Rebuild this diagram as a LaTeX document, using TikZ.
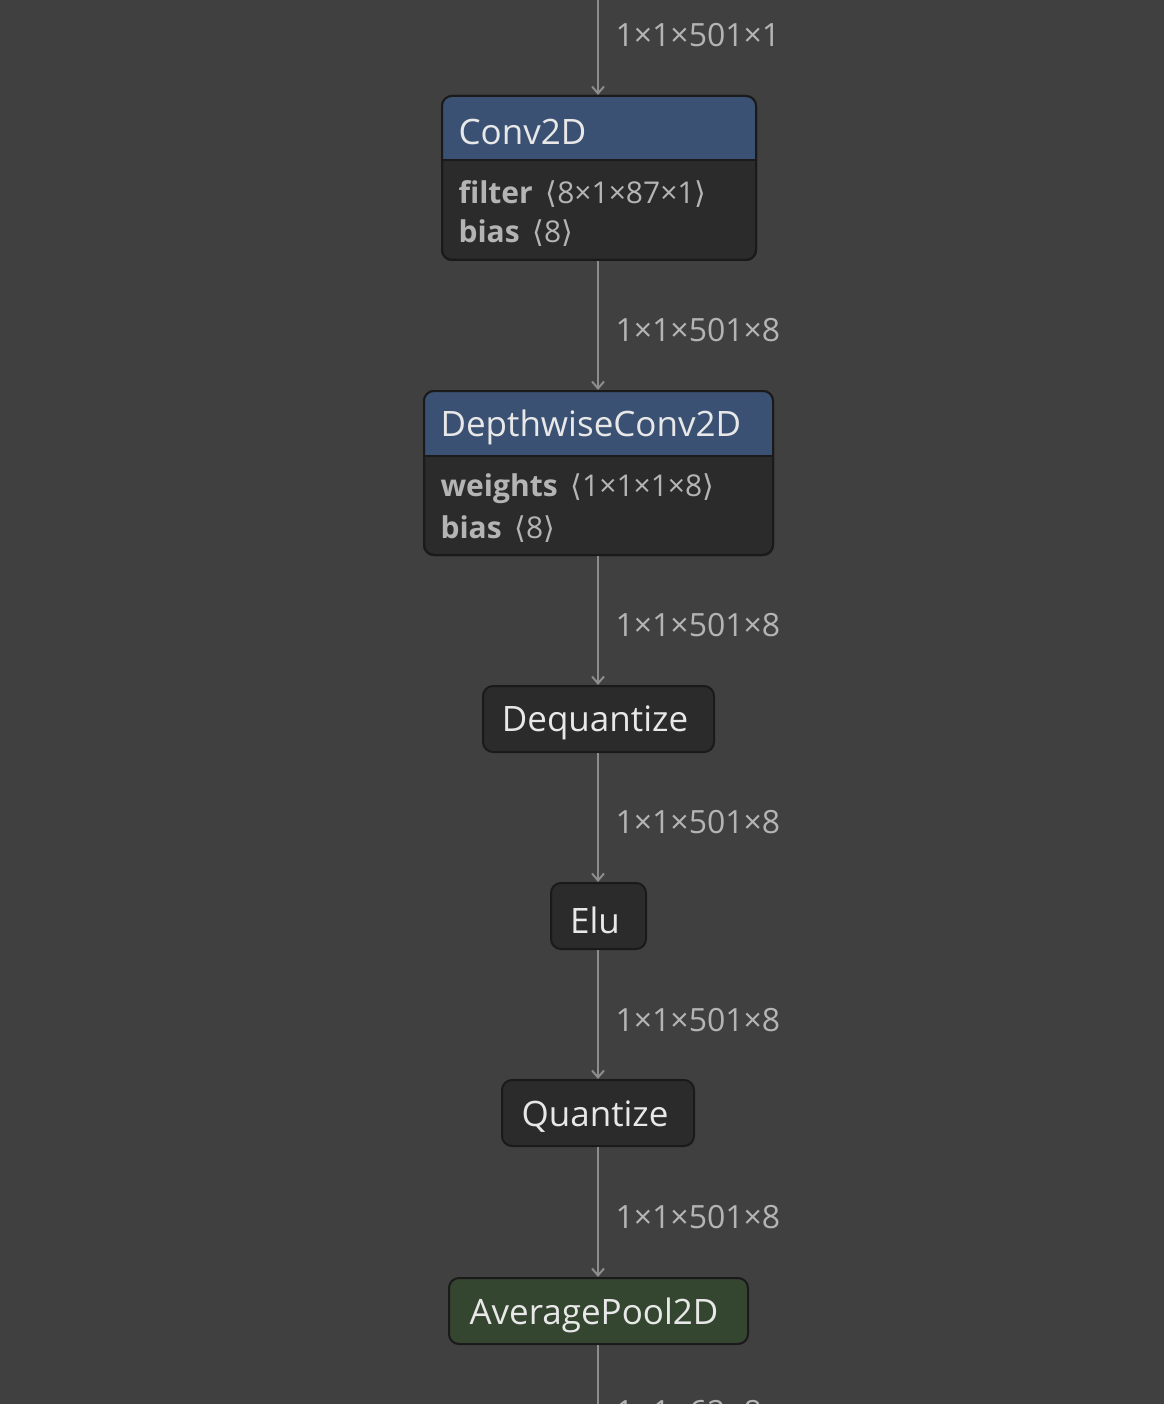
\documentclass[tikz,border=0pt]{standalone}
\usepackage{fontspec}
\setmainfont{Open Sans}
\newfontfamily\brk{DejaVu Sans}
\usetikzlibrary{arrows.meta}
\definecolor{bg}{HTML}{404040}
\definecolor{body}{HTML}{2B2B2B}
\definecolor{hblue}{HTML}{3B5173}
\definecolor{hgreen}{HTML}{34462F}
\definecolor{edge}{HTML}{1A1A1A}
\definecolor{wire}{HTML}{8C8C8C}
\definecolor{lbl}{HTML}{B4B4B4}
\definecolor{ttl}{HTML}{E8E8E8}
\tikzset{
  box/.style={draw=edge,line width=2pt,rounded corners=10pt,fill=body,inner sep=0pt},
  ttext/.style={text=ttl,font=\fontsize{35}{40}\selectfont,anchor=west},
  atext/.style={text=lbl,font=\fontsize{30}{34}\selectfont,anchor=west},
  elabel/.style={text=lbl,font=\fontsize{32}{36}\selectfont,anchor=west},
  wirestyle/.style={draw=wire,line width=2pt,-{Straight Barb[length=7pt,width=12pt]}},
}
\newcommand{\lb}{{\brk\char"27E8}}
\newcommand{\rb}{{\brk\char"27E9}}
\begin{document}
\begin{tikzpicture}[x=1pt,y=-1pt]
\fill[bg] (0,0) rectangle (1164,1404);
\useasboundingbox (0,0) rectangle (1164,1404);
% Conv2D
\node[box,minimum width=314pt,minimum height=164pt] (conv) at (599,178) {};
\begin{scope}
\clip[rounded corners=10pt] (442,96) rectangle (756,260);
\fill[hblue] (442,96) rectangle (756,160);
\end{scope}
\draw[edge,line width=2pt] (442,160) -- (756,160);
\draw[edge,line width=2pt,rounded corners=10pt] (442,96) rectangle (756,260);
\node[ttext] (convt) at (455,132) {Conv2D};
\node[atext] (conva) at (455,194) {\textbf{filter}\, \lb8×1×87×1\rb};
\node[atext] (convb) at (455,233) {\textbf{bias}\, \lb8\rb};
% Depthwise
\node[box,minimum width=349pt,minimum height=164pt] (dw) at (598.5,473) {};
\begin{scope}
\clip[rounded corners=10pt] (424,391) rectangle (773,555);
\fill[hblue] (424,391) rectangle (773,456);
\end{scope}
\draw[edge,line width=2pt] (424,456) -- (773,456);
\draw[edge,line width=2pt,rounded corners=10pt] (424,391) rectangle (773,555);
\node[ttext] (dwt) at (437,427) {DepthwiseConv2D};
\node[atext] (dwa) at (437,489) {\textbf{weights}\, \lb1×1×1×8\rb};
\node[atext] (dwb) at (437,529) {\textbf{bias}\, \lb8\rb};
% simple nodes
\node[box,minimum width=231pt,minimum height=66pt] (deq) at (598.5,719) {};
\node[ttext,anchor=center] at (595,723) {Dequantize};
\node[box,minimum width=95pt,minimum height=66pt] (elu) at (598.5,916) {};
\node[ttext,anchor=center] at (595,920) {Elu};
\node[box,minimum width=192pt,minimum height=66pt] (qu) at (598,1113) {};
\node[ttext,anchor=center] at (595,1117) {Quantize};
\node[box,fill=hgreen,minimum width=299pt,minimum height=66pt] (ap) at (598.5,1311) {};
\node[ttext,anchor=center] at (594,1315) {AveragePool2D};
% wires
\coordinate (top) at (598,0);
\coordinate (bot) at (598,1404);
\draw[wirestyle] (top) -- (598,95);
\draw[wirestyle] (598,261) -- (598,390);
\draw[wirestyle] (598,556) -- (598,685);
\draw[wirestyle] (598,753) -- (598,882);
\draw[wirestyle] (598,950) -- (598,1079);
\draw[wirestyle] (598,1147) -- (598,1277);
\draw[wire,line width=2pt] (598,1345) -- (bot);
\node[elabel] at (612,35) {1×1×501×1};
\node[elabel] at (612,330) {1×1×501×8};
\node[elabel] at (612,625) {1×1×501×8};
\node[elabel] at (612,822) {1×1×501×8};
\node[elabel] at (612,1020) {1×1×501×8};
\node[elabel] at (612,1217) {1×1×501×8};
\node[elabel] at (612,1412) {1×1×62×8};
\end{tikzpicture}
\end{document}
